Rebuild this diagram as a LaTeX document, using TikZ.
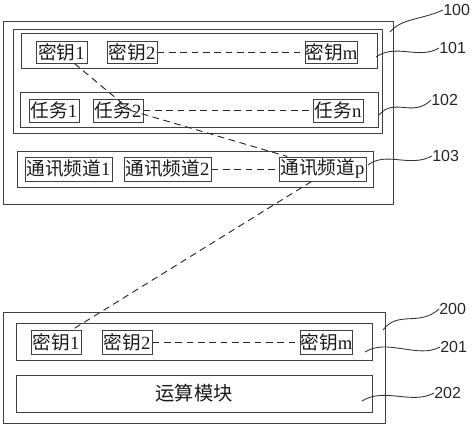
\documentclass[tikz,border=0pt]{standalone}
\usepackage{fontspec}
\setmainfont{Liberation Serif}
\newfontfamily\cjk{Noto Sans CJK SC}
\newfontfamily\lblfont{Liberation Sans}
\usetikzlibrary{calc}
\begin{document}
\begin{tikzpicture}[x=0.75pt,y=-0.75pt,
  bx/.style 2 args={draw=black!75, line width=0.75pt, inner sep=0pt, minimum width=#1*0.75pt, minimum height=#2*0.75pt, font=\fontsize{14}{16}\selectfont, text=black!90},
  dashline/.style={draw=black!85, line width=0.7pt, dash pattern=on 5pt off 3.5pt},
  leader/.style={draw=black!80, line width=0.65pt},
  lbl/.style={anchor=west, inner sep=0pt, font=\lblfont\fontsize{12}{14}\selectfont, text=black!85}]
\useasboundingbox (0,0) rectangle (474,425);
% upper device 100
\node[bx={390}{183}] (box100) at (198,112.5) {};
\node[bx={369}{104}] (boxin) at (197.5,81) {};
\node[bx={356}{35}] (b101) at (199,50.5) {};
\node[bx={51}{22}] (k1) at (61.5,52) {{\cjk 密钥}1};
\node[bx={50}{22}] (k2) at (132,52) {{\cjk 密钥}2};
\node[bx={51}{22}] (km) at (331.5,52) {{\cjk 密钥}m};
\node[bx={358}{35}] (b102) at (199,109.5) {};
\node[bx={50}{23}] (t1) at (54,110.5) {{\cjk 任务}1};
\node[bx={50}{23}] (t2) at (118,110.5) {{\cjk 任务}2};
\node[bx={50}{23}] (tn) at (338,110.5) {{\cjk 任务}n};
\node[bx={356}{36}] (b103) at (195,169) {};
\node[bx={87}{24}] (c1) at (68.5,169) {{\cjk 通讯频道}1};
\node[bx={87}{24}] (c2) at (167.5,169) {{\cjk 通讯频道}2};
\node[bx={87}{24}] (cp) at (322.5,169) {{\cjk 通讯频道}p};
% lower device 200
\node[bx={382}{111}] (box200) at (194,367.5) {};
\node[bx={356}{37}] (b201) at (194,341.5) {};
\node[bx={50}{24}] (bk1) at (56,342) {{\cjk 密钥}1};
\node[bx={50}{24}] (bk2) at (127,342) {{\cjk 密钥}2};
\node[bx={51}{24}] (bkm) at (326.5,342) {{\cjk 密钥}m};
\node[bx={356}{37}, font=\cjk\fontsize{14.5}{16}\selectfont] (b202) at (194,393.5) {运算模块};
% dashed links
\draw[dashline] (k2.east) -- (km.west);
\draw[dashline] (t2.east) -- (tn.west);
\draw[dashline] (c2.east) -- (cp.west);
\draw[dashline] (bk2.east) -- (bkm.west);
\coordinate (j) at ($(t2.center)!0.5!(t2.east)$);
\draw[dashline] ($(k1.south)!0.5!(k1.south east)$) -- (j);
\draw[dashline] (j) -- ($(cp.north west)!0.1!(cp.north east)$);
\draw[dashline] ($(cp.south)!0.25!(cp.south west)$) -- ($(bk1.north)!0.65!(bk1.north east)$);
% labels
\node[lbl] (l100) at (443,10) {100};
\node[lbl] (l101) at (439,48) {101};
\node[lbl] (l102) at (431,100) {102};
\node[lbl] (l103) at (432,156) {103};
\node[lbl] (l200) at (439,309) {200};
\node[lbl] (l201) at (440,347) {201};
\node[lbl] (l202) at (434,393) {202};
\coordinate (a100) at (390,32);
\coordinate (a101) at (376,57);
\coordinate (a102) at (379,115);
\coordinate (a103) at (368,165);
\coordinate (a200) at (383,330);
\coordinate (a201) at (365,352);
\coordinate (a202) at (362,401);
\draw[leader] (a100) .. controls +(12,-14) and +(-22,10) .. (l100.west);
\draw[leader] (a101) .. controls +(20,-14) and +(-20,12) .. (l101.west);
\draw[leader] (a102) .. controls +(15,-18) and +(-18,18) .. (l102.west);
\draw[leader] (a103) .. controls +(18,-14) and +(-22,12) .. (l103.west);
\draw[leader] (a200) .. controls +(15,-20) and +(-20,18) .. (l200.west);
\draw[leader] (a201) .. controls +(22,-14) and +(-22,12) .. (l201.west);
\draw[leader] (a202) .. controls +(22,-14) and +(-22,12) .. (l202.west);
\end{tikzpicture}
\end{document}
